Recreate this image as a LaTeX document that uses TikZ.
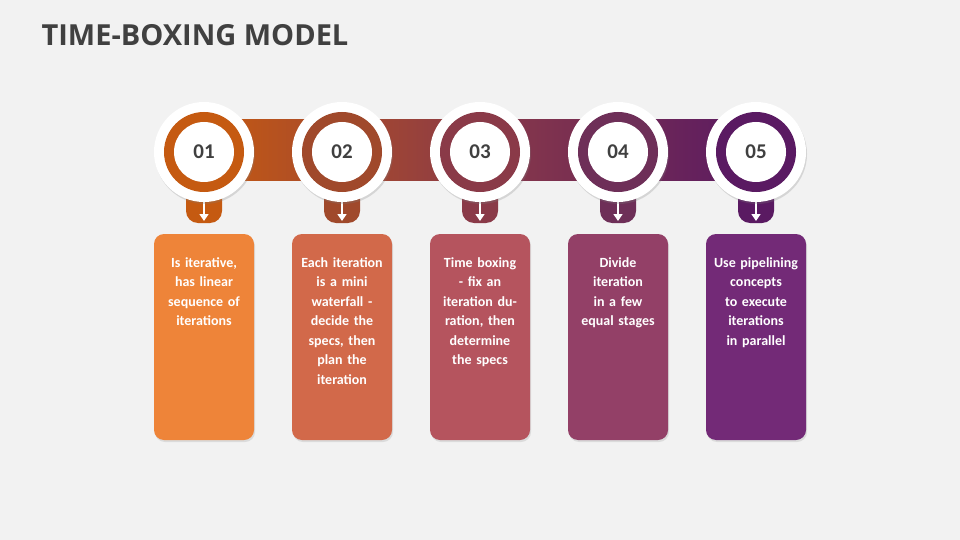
\documentclass[tikz,border=0pt]{standalone}
\usepackage{fontspec}
\setmainfont{Carlito}
\newfontfamily\titlefont{Open Sans}
\usetikzlibrary{shadows,arrows.meta}
\definecolor{bg}{HTML}{F2F2F2}
\definecolor{ttl}{HTML}{404040}
\definecolor{ra}{HTML}{C55A11}\definecolor{rb}{HTML}{A0492B}\definecolor{rc}{HTML}{8A3A48}\definecolor{rd}{HTML}{6E2F58}\definecolor{re}{HTML}{5A1A62}
\definecolor{ba}{HTML}{EE8439}\definecolor{bb}{HTML}{D2694A}\definecolor{bc}{HTML}{B5545E}\definecolor{bd}{HTML}{934067}\definecolor{be}{HTML}{732A77}
\tikzset{
 outer/.style={circle,fill=white,minimum size=100pt,inner sep=0pt,drop shadow={shadow xshift=1pt,shadow yshift=-2pt,opacity=0.25}},
 ring/.style={circle,minimum size=80pt,inner sep=0pt},
 inner/.style={circle,fill=white,minimum size=60pt,inner sep=0pt,font=\bfseries\fontsize{21}{24}\selectfont,text=ttl},
 textbox/.style={rounded corners=10pt,minimum width=100pt,minimum height=206pt,inner sep=0pt,drop shadow={shadow xshift=1pt,shadow yshift=-2pt,opacity=0.2}},
 boxtext/.style={text=white,font=\bfseries\fontsize{14}{19.5}\selectfont,align=center,text width=84pt,anchor=north},
 arr/.style={white,line width=1.5pt,-{Triangle[length=7pt,width=9pt]}}
}
\begin{document}
\begin{tikzpicture}[x=1pt,y=-1pt]
\fill[bg] (0,0) rectangle (960,540);
\useasboundingbox (0,0) rectangle (960,540);
\node[anchor=west,text=ttl,font=\titlefont\bfseries\fontsize{29}{32}\selectfont] (title) at (38,35) {TIME-BOXING MODEL};
\shade[left color=ra,right color=re,middle color=rc] (204,120) rectangle (756,181);
\foreach \i/\x/\rc/\bc/\t in {
 1/204/ra/ba/{Is iterative, has linear sequence of iterations},
 2/342/rb/bb/{Each iteration is a mini waterfall - decide the specs, then plan the iteration},
 3/480/rc/bc/{Time boxing - fix an iteration duration, then determine the specs},
 4/618/rd/bd/{Divide iteration in a few equal stages},
 5/756/re/be/{Use pipelining concepts to execute iterations in parallel}}{
 \fill[\rc,rounded corners=12pt] (\x-18,178) -- (\x-18,223) -- (\x+18,223) -- (\x+18,178) -- cycle;
 \coordinate (a\i) at (\x,198);
 \coordinate (b\i) at (\x,221);
 \draw[arr] (a\i) -- (b\i);
 \node[outer] (o\i) at (\x,152) {};
 \node[ring,fill=\rc] (r\i) at (\x,152) {};
 \node[inner] (n\i) at (\x,152) {0\i};
 \node[textbox,fill=\bc] (box\i) at (\x,337) {};
 \node[boxtext] (t\i) at (\x,254) {\t};
}
\end{tikzpicture}
\end{document}
